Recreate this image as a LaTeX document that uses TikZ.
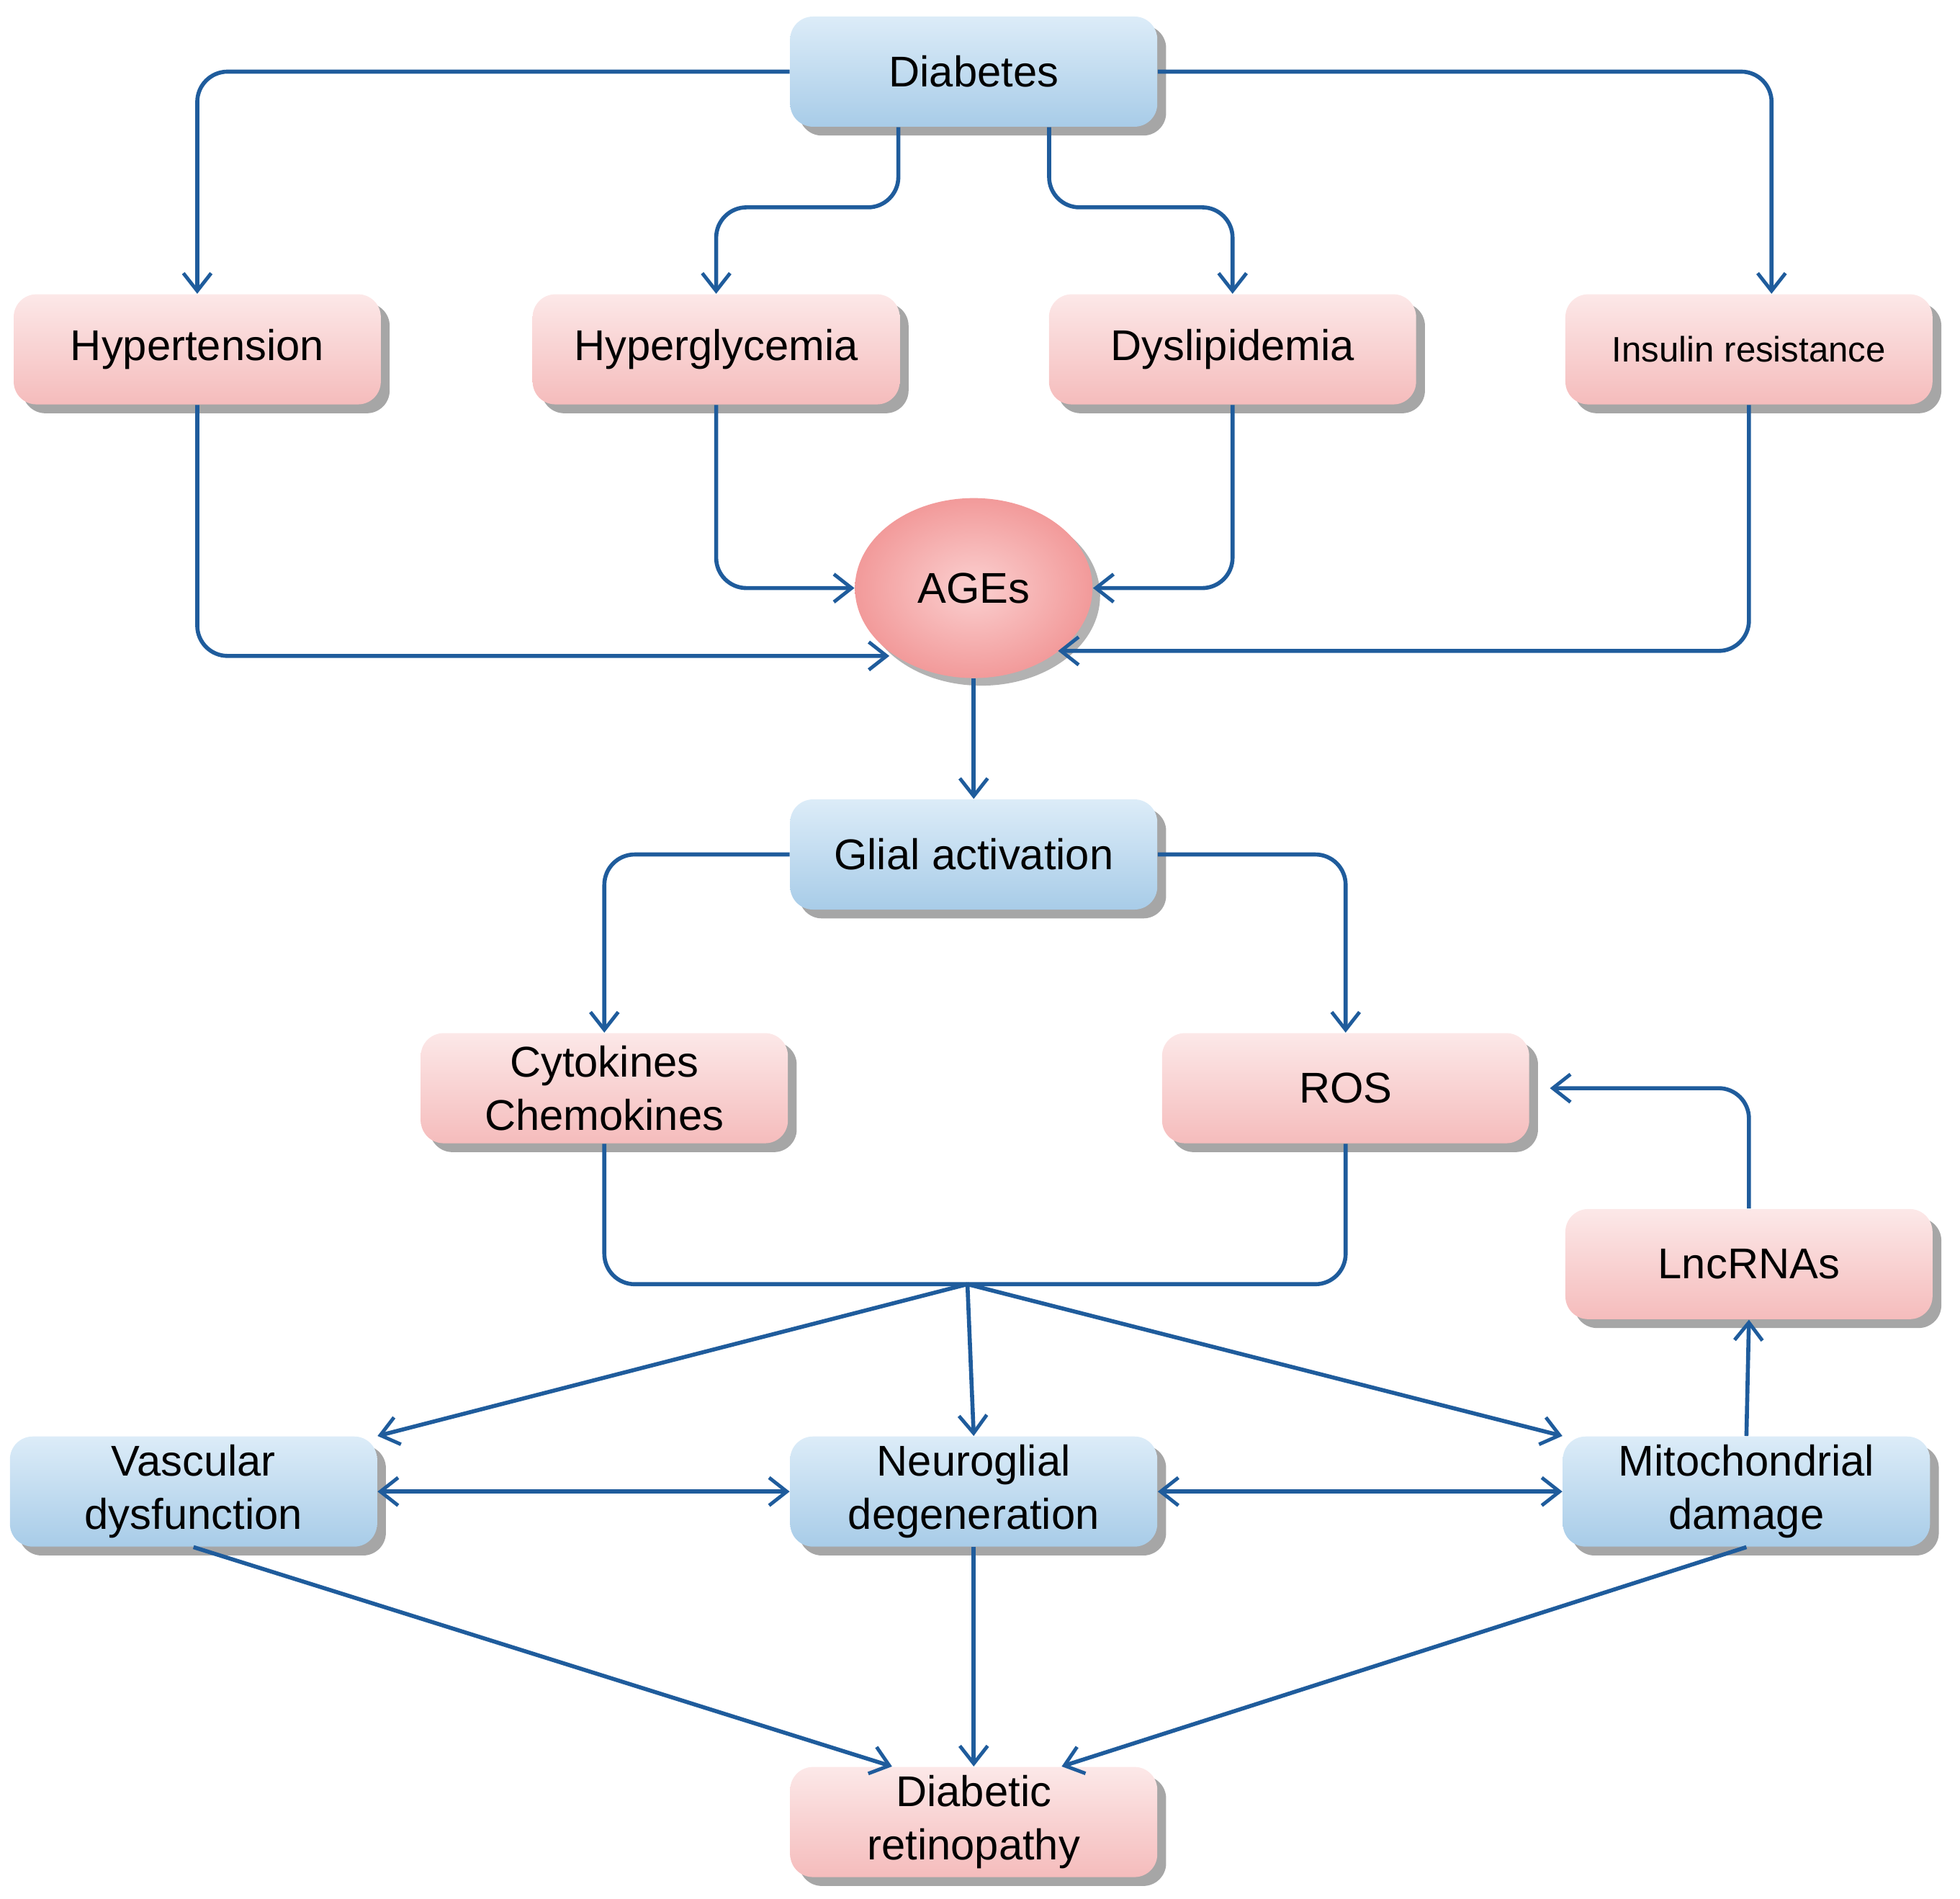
\documentclass[tikz,border=0pt]{standalone}
\usepackage{fontspec}
\setmainfont{Liberation Sans}
\usetikzlibrary{arrows.meta, shapes.geometric, shadows}

\begin{document}
\begin{tikzpicture}[
            x = 0.01745cm, y = -0.01745cm,
            >={Straight Barb[length=7pt, width=11pt, line width=1.4pt]}, % arrow head style
            link/.style = {draw = arrowblue, line width = 1.6pt, rounded corners = 12pt},
            box/.style = {rounded corners = 9pt, align = center,
                font = \fontsize{17}{21}\selectfont,
                minimum width = 5.1cm, minimum height = 1.53cm,
                drop shadow = {shadow xshift = 3.5pt, shadow yshift = -3.5pt,
                    fill = black!35, opacity = 1}},
            bluebox/.style = {box, top color = blueA, bottom color = blueB},
            pinkbox/.style = {box, top color = pinkA, bottom color = pinkB}
        ]

        \definecolor{arrowblue}{HTML}{1F5C9C}
        \definecolor{blueA}{HTML}{DCECF8}
        \definecolor{blueB}{HTML}{A8CCE8}
        \definecolor{pinkA}{HTML}{FCE8E8}
        \definecolor{pinkB}{HTML}{F5BCBC}
        \definecolor{agesIn}{HTML}{FBD0D0}
        \definecolor{agesOut}{HTML}{F29A9A}

        \useasboundingbox (0,0) rectangle (1560,1511);

        \node[bluebox] (diab) at (775,57) {Diabetes};
        \node[pinkbox] (hyper) at (157,278) {Hypertension};
        \node[pinkbox] (glyc) at (570,278) {Hyperglycemia};
        \node[pinkbox] (dysl) at (981,278) {Dyslipidemia};
        \node[pinkbox, font = \fontsize{14}{17}\selectfont] (insul) at (1392,278) {Insulin resistance};
        \node[ellipse, minimum width = 3.3cm, minimum height = 2.5cm,
            inner color = agesIn, outer color = agesOut,
            font = \fontsize{17}{21}\selectfont,
            drop shadow = {shadow xshift = 3pt, shadow yshift = -3pt, fill = black!30, opacity = 1}]
            (ages) at (775,468) {AGEs};
        \node[bluebox] (glial) at (775,680) {Glial activation};
        \node[pinkbox] (cyto) at (481,866) {Cytokines\\Chemokines};
        \node[pinkbox] (ros) at (1071,866) {ROS};
        \node[pinkbox] (lnc) at (1392,1006) {LncRNAs};
        \node[bluebox] (vasc) at (154,1187) {Vascular\\dysfunction};
        \node[bluebox] (neuro) at (775,1187) {Neuroglial\\degeneration};
        \node[bluebox] (mito) at (1390,1187) {Mitochondrial\\damage};
        \node[pinkbox] (retin) at (775,1450) {Diabetic\\retinopathy};

        \coordinate (junc) at (770,1022);

        % diabetes to risk factors
        \draw[link, ->] (diab.west) -| (hyper.north);
        \draw[link, ->] (diab.south -| 715,0) -- (715,165) -| (glyc.north);
        \draw[link, ->] (diab.south -| 835,0) -- (835,165) -| (dysl.north);
        \draw[link, ->] (diab.east) -| (insul.north -| 1410,0);

        % risk factors to AGEs
        \draw[link, ->] (hyper.south) |- (ages.south west |- 0,522);
        \draw[link, ->] (glyc.south) |- (ages.west);
        \draw[link, ->] (dysl.south) |- (ages.east);
        \draw[link, ->] (insul.south) |- (ages.south east |- 0,518);

        \draw[link, ->] (ages.south) -- (glial.north);
        \draw[link, ->] (glial.west) -| (cyto.north);
        \draw[link, ->] (glial.east) -| (ros.north);
        \draw[link] (cyto.south) |- (junc) -| (ros.south);

        \draw[link, ->] (junc) -- (vasc.north east);
        \draw[link, ->] (junc) -- (neuro.north);
        \draw[link, ->] (junc) -- (mito.north west);

        \draw[link, <->] (vasc.east) -- (neuro.west);
        \draw[link, <->] (neuro.east) -- (mito.west);
        \draw[link, ->] (mito.north) -- (lnc.south);
        \draw[link, ->] (lnc.north) |- ([xshift=8pt]ros.east);

        \draw[link, ->] (vasc.south) -- (retin.north west -| 710,0);
        \draw[link, ->] (neuro.south) -- (retin.north);
        \draw[link, ->] (mito.south) -- (retin.north east -| 845,0);
    \end{tikzpicture}
\end{document}
